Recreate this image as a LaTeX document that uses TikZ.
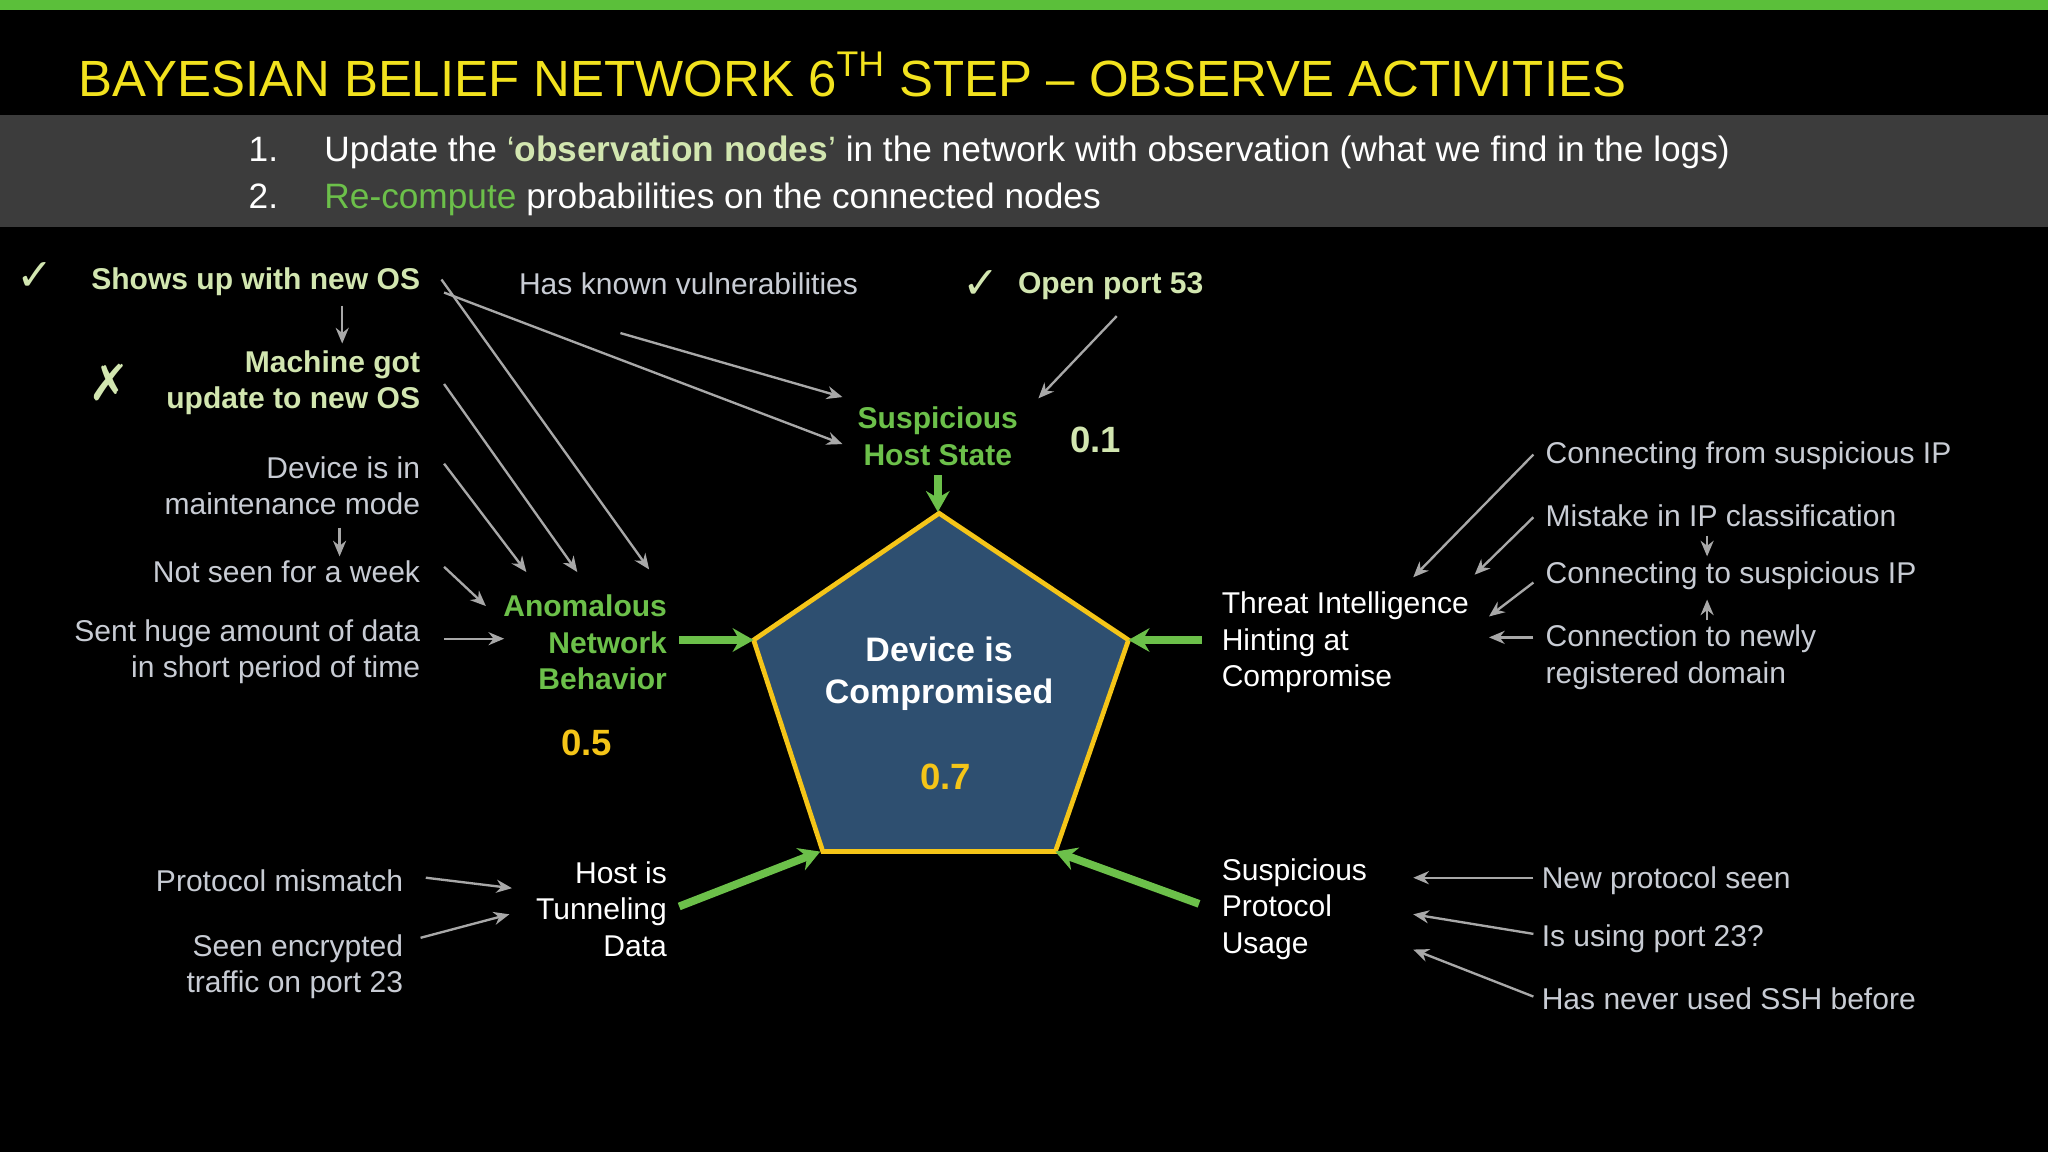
\documentclass[tikz,border=0pt]{standalone}
\usepackage{fontspec}
\setmainfont{Liberation Sans}
\newfontfamily\symf{DejaVu Sans}
\usetikzlibrary{arrows.meta}
\definecolor{barg}{HTML}{5BBF3A}
\definecolor{band}{HTML}{3C3C3C}
\definecolor{ttl}{HTML}{F2E21E}
\definecolor{lg}{HTML}{D2E6B0}
\definecolor{gn}{HTML}{6CC04A}
\definecolor{yl}{HTML}{F5C518}
\definecolor{pent}{HTML}{2E4F70}
\definecolor{txt}{HTML}{C8CCD4}
\definecolor{ar}{HTML}{A8A8A8}
\begin{document}
\begin{tikzpicture}[x=0.5pt,y=-0.5pt,
  every node/.style={inner sep=0pt,font=\fontsize{11.5}{14}\selectfont},
  plain/.style={text=txt,align=right},
  plainl/.style={text=txt,align=left},
  obs/.style={text=lg,font=\fontsize{11.5}{14}\selectfont\bfseries,align=right},
  gnode/.style={text=gn,font=\fontsize{11.5}{14}\selectfont\bfseries},
  wnode/.style={text=white,align=left},
  ga/.style={draw=ar,line width=0.9pt,-{Stealth[length=6pt,width=5pt]}},
  gg/.style={draw=gn,line width=3pt,-{Stealth[length=8pt,width=9pt]}},
  num/.style={font=\fontsize{14}{16}\selectfont\bfseries}]
\fill[black] (0,0) rectangle (1568,882);
\useasboundingbox (0,0) rectangle (1568,882);
\fill[barg] (0,0) rectangle (1568,8);
\fill[band] (0,88) rectangle (1568,174);
\node[anchor=base west,text=ttl,font=\fontsize{19.5}{22}\selectfont] (title) at (60,74) {BAYESIAN BELIEF NETWORK 6\textsuperscript{TH} STEP -- OBSERVE ACTIVITIES};
\node[anchor=base west,text=white,font=\fontsize{13.5}{16}\selectfont] (n1) at (190,124) {1.};
\node[anchor=base west,text=white,font=\fontsize{13.5}{16}\selectfont] (l1) at (248,124) {Update the \textcolor{lg}{`\textbf{observation nodes}'} in the network with observation (what we find in the logs)};
\node[anchor=base west,text=white,font=\fontsize{13.5}{16}\selectfont] (n2) at (190,160) {2.};
\node[anchor=base west,text=white,font=\fontsize{13.5}{16}\selectfont] (l2) at (248,160) {\textcolor{gn}{Re-compute} probabilities on the connected nodes};

% pentagon
\draw[fill=pent,draw=yl,line width=1.8pt] (719,393) -- (864,490) -- (808,652) -- (630,652) -- (577,490) -- cycle;
\node[text=white,font=\fontsize{13}{16}\selectfont\bfseries,align=center] (dc) at (719,516) {Device is\\Compromised};
\node[num,text=yl] (v07) at (724,595) {0.7};

% left top
\node[text=lg,font=\symf\fontsize{17}{17}\selectfont] (ck1) at (27,212) {✓};
\node[obs,anchor=east] (os) at (322,216) {Shows up with new OS};
\node[text=lg,font=\symf\fontsize{19}{19}\selectfont] (x1) at (84,293) {✗};
\node[obs,anchor=east] (upd) at (322,293) {Machine got\\update to new OS};
\node[plain,anchor=east] (maint) at (322,372) {Device is in\\maintenance mode};
\node[plain,anchor=east] (week) at (322,438) {Not seen for a week};
\node[plain,anchor=east] (huge) at (322,499) {Sent huge amount of data\\in short period of time};
\node[plainl,anchor=west] (vuln) at (397,217) {Has known vulnerabilities};
\node[text=lg,font=\symf\fontsize{17}{17}\selectfont] (ck2) at (751,218) {✓};
\node[obs,anchor=west] (p53) at (779,219) {Open port 53};
\node[gnode,align=center] (shs) at (718,334) {Suspicious\\Host State};
\node[num,text=lg] (v01) at (839,337) {0.1};
\node[gnode,align=right,anchor=east] (anb) at (511,492) {Anomalous\\Network\\Behavior};
\node[num,text=yl] (v05) at (449,569) {0.5};

% right
\node[wnode,anchor=west] (ti) at (935,492) {Threat Intelligence\\Hinting at\\Compromise};
\node[plainl,anchor=west] (r1) at (1183,349) {Connecting from suspicious IP};
\node[plainl,anchor=west] (r2) at (1183,395) {Mistake in IP classification};
\node[plainl,anchor=west] (r3) at (1183,441) {Connecting to suspicious IP};
\node[plainl,anchor=west] (r4) at (1183,503) {Connection to newly\\registered domain};

% bottom
\node[text=white,align=right,anchor=east] (tun) at (511,696) {Host is\\Tunneling\\Data};
\node[plain,anchor=east] (pm) at (309,674) {Protocol mismatch};
\node[plain,anchor=east] (enc) at (309,740) {Seen encrypted\\traffic on port 23};
\node[wnode,anchor=west] (spu) at (935,696) {Suspicious\\Protocol\\Usage};
\node[plainl,anchor=west] (b1) at (1180,674) {New protocol seen};
\node[plainl,anchor=west] (b2) at (1180,719) {Is using port 23?};
\node[plainl,anchor=west] (b3) at (1180,765) {Has never used SSH before};

% gray arrows
\draw[ga] (262,234) -- (262,263);
\draw[ga] (340,224) -- (645,340);
\draw[ga] (338,214) -- (497,436);
\draw[ga] (475,255) -- (645,304);
\draw[ga] (340,294) -- (442,438);
\draw[ga] (340,355) -- (403,438);
\draw[ga] (260,404) -- (260,426);
\draw[ga] (340,434) -- (372,464);
\draw[ga] (340,489) -- (386,489);
\draw[ga] (855,242) -- (795,305);
\draw[ga] (1174,348) -- (1082,442);
\draw[ga] (1174,396) -- (1129,440);
\draw[ga] (1174,446) -- (1140,472);
\draw[ga] (1174,488) -- (1140,488);
\draw[ga] (1307,410) -- (1307,426);
\draw[ga] (1307,475) -- (1307,459);
\draw[ga] (326,672) -- (392,680);
\draw[ga] (322,718) -- (390,700);
\draw[ga] (1174,672) -- (1082,672);
\draw[ga] (1174,715) -- (1082,700);
\draw[ga] (1174,763) -- (1082,727);

% green arrows
\draw[gg] (718,364) -- (718,392);
\draw[gg] (520,490) -- (577,490);
\draw[gg] (920,490) -- (864,490);
\draw[gg] (520,694) -- (628,652);
\draw[gg] (918,692) -- (808,652);
\end{tikzpicture}
\end{document}
